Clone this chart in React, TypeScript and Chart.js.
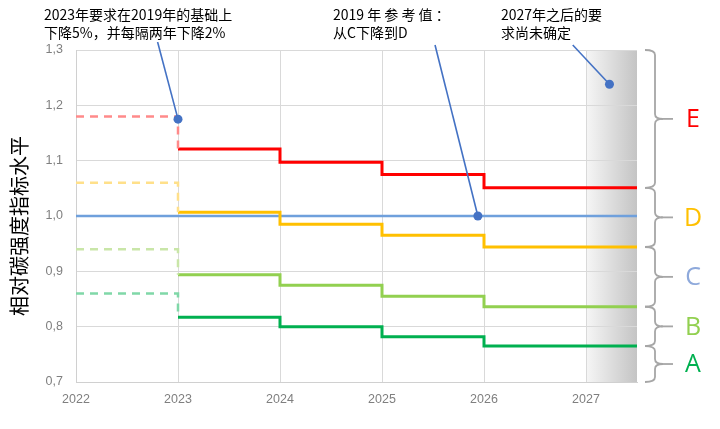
import { useRef, useEffect } from "react";
import Chart from "chart.js/auto";

// step values per rating boundary (value holds from the year until the next one)
const years = [2023, 2024, 2025, 2026];
const endYear = 2027.5;
const seriesE = [1.121, 1.097, 1.075, 1.051];
const seriesD = [1.007, 0.985, 0.965, 0.944];
const seriesB = [0.894, 0.875, 0.855, 0.836];
const seriesA = [0.817, 0.8, 0.782, 0.765];
// 2022 levels before the 2023 drop, in order E, D, B, A
const before2023 = [1.18, 1.06, 0.94, 0.86];
const referenceC = 1.0;

const xTicks = [2022, 2023, 2024, 2025, 2026, 2027];
const yMin = 0.7;
const yMax = 1.3;

const ratingLabels = ["E", "D", "C", "B", "A"];
const ratingColors = ["#FF0000", "#FFC000", "#8EA9DB", "#92D050", "#00B050"];

const calloutTexts = [
  ["2023年要求在2019年的基础上", "下降5%，并每隔两年下降2%"],
  ["2019 年 参 考 值 ：", "从C下降到D"],
  ["2027年之后的要", "求尚未确定"],
];
const calloutBoxes = [
  { x: 40, y: 0, w: 205, h: 42, tx: 44 },
  { x: 328, y: 0, w: 127, h: 42, tx: 333 },
  { x: 495, y: 0, w: 130, h: 44, tx: 501 },
];
// leader lines in data units: from box edge to dot
const leaderFrom = [
  { x: 2022.8, y: 1.3145 },
  { x: 2025.52, y: 1.309 },
  { x: 2026.87, y: 1.309 },
];
const leaderTo = [
  { x: 2023, y: 1.175 },
  { x: 2025.94, y: 1.0 },
  { x: 2027.23, y: 1.238 },
];

const CJK = '"Noto Sans CJK SC", sans-serif';

const solid = (vals: number[]) => [
  ...years.map((x, i) => ({ x, y: vals[i] })),
  { x: endYear, y: vals[vals.length - 1] },
];
const dashed = (start: number, vals: number[]) => [
  { x: 2022, y: start },
  { x: 2023, y: start },
  { x: 2023, y: vals[0] },
];

const extrasPlugin = {
  id: "extras",
  beforeDraw(chart: any) {
    const { ctx, chartArea, scales } = chart;
    const x0 = scales.x.getPixelForValue(2027);
    const x1 = chartArea.right;
    const g = ctx.createLinearGradient(x0, 0, x1, 0);
    g.addColorStop(0, "#f6f6f6");
    g.addColorStop(1, "#c4c4c4");
    ctx.save();
    ctx.fillStyle = g;
    ctx.fillRect(x0, chartArea.top, x1 - x0, chartArea.bottom - chartArea.top);
    ctx.restore();
  },
  afterDraw(chart: any) {
    const { ctx, scales } = chart;
    const xs = scales.x;
    const ys = scales.y;
    ctx.save();

    // leader lines and dots
    ctx.strokeStyle = "#4472C4";
    ctx.fillStyle = "#4472C4";
    ctx.lineWidth = 1.6;
    leaderFrom.forEach((f, i) => {
      const t = leaderTo[i];
      const ax = xs.getPixelForValue(f.x);
      const ay = ys.getPixelForValue(f.y);
      const bx = xs.getPixelForValue(t.x);
      const by = ys.getPixelForValue(t.y);
      ctx.beginPath();
      ctx.moveTo(ax, ay);
      ctx.lineTo(bx, by);
      ctx.stroke();
      ctx.beginPath();
      ctx.arc(bx, by, 4.5, 0, Math.PI * 2);
      ctx.fill();
    });

    // callout boxes
    calloutBoxes.forEach((b, i) => {
      ctx.fillStyle = "#ffffff";
      ctx.fillRect(b.x, b.y, b.w, b.h);
      ctx.fillStyle = "#000000";
      ctx.font = `14px ${CJK}`;
      ctx.textBaseline = "middle";
      ctx.textAlign = "left";
      calloutTexts[i].forEach((line, j) => {
        ctx.fillText(line, b.tx, 15 + j * 18);
      });
    });

    // braces on the right
    const bounds = [
      yMax,
      seriesE[seriesE.length - 1],
      seriesD[seriesD.length - 1],
      seriesB[seriesB.length - 1],
      seriesA[seriesA.length - 1],
      yMin,
    ];
    const hx = 645;
    const sx = 655;
    ctx.strokeStyle = "#A6A6A6";
    ctx.lineWidth = 1.8;
    for (let i = 0; i < 5; i++) {
      const top = ys.getPixelForValue(bounds[i]);
      const bot = ys.getPixelForValue(bounds[i + 1]);
      const mid = (top + bot) / 2;
      const r = Math.min(5, (bot - top) / 4);
      ctx.beginPath();
      ctx.moveTo(hx, top);
      ctx.quadraticCurveTo(sx, top, sx, top + r);
      ctx.lineTo(sx, mid - r);
      ctx.quadraticCurveTo(sx, mid, sx + 8, mid);
      ctx.quadraticCurveTo(sx, mid, sx, mid + r);
      ctx.lineTo(sx, bot - r);
      ctx.quadraticCurveTo(sx, bot, hx, bot);
      ctx.stroke();
      ctx.beginPath();
      ctx.moveTo(sx + 6, mid);
      ctx.lineTo(sx + 18, mid);
      ctx.stroke();

      ctx.fillStyle = ratingColors[i];
      ctx.font = '25px "Open Sans", sans-serif';
      ctx.textAlign = "center";
      ctx.textBaseline = "middle";
      ctx.fillText(ratingLabels[i], 693, mid + 1);
    }

    // y axis title
    ctx.translate(19, 226);
    ctx.rotate(-Math.PI / 2);
    ctx.fillStyle = "#000000";
    ctx.font = `20px ${CJK}`;
    ctx.textAlign = "center";
    ctx.textBaseline = "middle";
    ctx.fillText("相对碳强度指标水平", 0, 0);
    ctx.restore();
  },
};

const App = () => {
  const chartRef = useRef<HTMLCanvasElement>(null);

  useEffect(() => {
    document.body.style.margin = "0";
    const lineBase = { pointRadius: 0, borderWidth: 3, fill: false };
    const series = [seriesE, seriesD, seriesB, seriesA];
    const solidColors = ["#FF0000", "#FFC000", "#92D050", "#00B050"];
    const dashColors = ["#FF8A8A", "#FFE08A", "#C9E6A8", "#80D8A8"];

    const datasets: any[] = [];
    series.forEach((vals, i) => {
      datasets.push({
        ...lineBase,
        label: ratingLabels[i < 2 ? i : i + 1] + " 2022",
        data: dashed(before2023[i], vals),
        borderColor: dashColors[i],
        borderDash: [8, 6],
        borderWidth: 2.5,
      });
      datasets.push({
        ...lineBase,
        label: ratingLabels[i < 2 ? i : i + 1],
        data: solid(vals),
        borderColor: solidColors[i],
        stepped: true,
      });
    });
    datasets.push({
      ...lineBase,
      label: "C",
      data: [
        { x: 2022, y: referenceC },
        { x: endYear, y: referenceC },
      ],
      borderColor: "#6FA0DC",
      borderWidth: 2.5,
    });

    const tickFont = { family: '"Liberation Sans", sans-serif', size: 12.5 };

    const myChart = new Chart(chartRef.current!, {
      type: "line",
      data: { datasets },
      options: {
        animation: false,
        responsive: true,
        maintainAspectRatio: false,
        layout: { padding: { top: 50, right: 83, left: 0, bottom: 0 } },
        plugins: { legend: { display: false }, tooltip: { enabled: false } },
        scales: {
          x: {
            type: "linear",
            min: 2022,
            max: endYear,
            afterFit: (s: any) => {
              s.height = 47;
            },
            afterBuildTicks: (s: any) => {
              s.ticks = xTicks.map((v) => ({ value: v }));
            },
            grid: { color: "#D9D9D9", drawTicks: false },
            border: { color: "#D0D0D0" },
            ticks: {
              padding: 10,
              color: "#7F7F7F",
              font: tickFont,
              callback: (v: any) => String(v),
            },
          },
          y: {
            min: yMin,
            max: yMax,
            afterFit: (s: any) => {
              s.width = 76;
            },
            grid: { color: "#D9D9D9", drawTicks: false },
            border: { color: "#D0D0D0" },
            ticks: {
              stepSize: 0.1,
              padding: 13,
              color: "#7F7F7F",
              font: tickFont,
              callback: (v: any) => Number(v).toFixed(1).replace(".", ","),
            },
          },
        },
      },
      plugins: [extrasPlugin],
    });

    return () => myChart.destroy();
  }, []);

  return (
    <div style={{ width: 720, height: 429, position: "relative", background: "#fff" }}>
      <canvas ref={chartRef}></canvas>
    </div>
  );
};

export default App;
